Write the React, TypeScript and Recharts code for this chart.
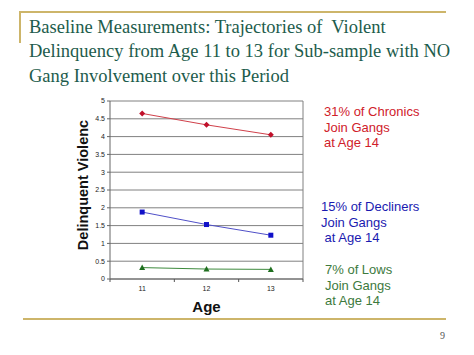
import React from 'react';
import { LineChart, Line, XAxis, YAxis, CartesianGrid, ReferenceLine } from 'recharts';

const ages = [11, 12, 13];
const chronics = [4.65, 4.33, 4.05];
const decliners = [1.88, 1.53, 1.23];
const lows = [0.32, 0.28, 0.27];
const yTicks = [0, 0.5, 1, 1.5, 2, 2.5, 3, 3.5, 4, 4.5, 5];
const xTicks = [10.5, 11, 11.5, 12, 12.5, 13, 13.5];

const titleLines = [
  'Baseline Measurements: Trajectories of  Violent',
  'Delinquency from Age 11 to 13 for Sub-sample with NO',
  'Gang Involvement over this Period',
];
const notes = [
  { lines: ['31% of Chronics', 'Join Gangs', 'at Age 14'], color: '#d0202a', left: 324, top: 104 },
  { lines: ['15% of Decliners', 'Join Gangs', '\u00a0at Age 14'], color: '#1a1ab0', left: 321, top: 199 },
  { lines: ['7% of Lows', 'Join Gangs', 'at Age 14'], color: '#3d7a3d', left: 325, top: 262 },
];

const data = ages.map((a, i) => ({ age: a, chronics: chronics[i], decliners: decliners[i], lows: lows[i] }));

const Diamond = (props: any) => {
  const { cx, cy } = props;
  if (cx == null || cy == null) return null;
  return <path d={`M${cx},${cy - 3}L${cx + 3},${cy}L${cx},${cy + 3}L${cx - 3},${cy}Z`} fill="#c0102a" />;
};
const Square = (props: any) => {
  const { cx, cy } = props;
  if (cx == null || cy == null) return null;
  return <rect x={cx - 2.5} y={cy - 2.5} width={5} height={5} fill="#1010c8" />;
};
const Triangle = (props: any) => {
  const { cx, cy } = props;
  if (cx == null || cy == null) return null;
  return <path d={`M${cx},${cy - 3}L${cx + 3},${cy + 2.5}L${cx - 3},${cy + 2.5}Z`} fill="#1f6f1f" />;
};

const XTick = (props: any) => {
  const { x, y, payload } = props;
  const v = payload.value;
  if (Number.isInteger(v)) {
    return (
      <text x={x} y={y + 12} textAnchor="middle" fontSize={7} fill="#222" fontFamily="Liberation Sans, Arial, sans-serif">
        {v}
      </text>
    );
  }
  return <line x1={x} x2={x} y1={y} y2={y + 3} stroke="#555" />;
};

export default function App() {
  return (
    <div style={{ position: 'absolute', left: 0, top: 0, width: 474, height: 355, background: '#fff', overflow: 'hidden' }}>
      <div style={{ position: 'absolute', left: 20, top: 11, width: 426, height: 1.5, background: '#cdb56a' }} />
      <div style={{ position: 'absolute', left: 19, top: 11, width: 1.5, height: 32, background: '#cdb56a' }} />
      <div style={{ position: 'absolute', left: 23, top: 318, width: 423, height: 1.5, background: '#cdb56a' }} />
      {titleLines.map((t, i) => (
        <div
          key={i}
          style={{
            position: 'absolute',
            left: 29,
            top: [16, 40, 65][i],
            fontFamily: 'Liberation Serif, Times New Roman, serif',
            fontSize: 18.5,
            color: '#1d5c4c',
            whiteSpace: 'pre',
            lineHeight: '22px',
          }}
        >
          {t}
        </div>
      ))}
      {notes.map((n, i) => (
        <div
          key={i}
          style={{
            position: 'absolute',
            left: n.left,
            top: n.top,
            color: n.color,
            fontFamily: 'Liberation Sans, Arial, sans-serif',
            fontSize: 13,
            lineHeight: '15.5px',
            whiteSpace: 'pre',
          }}
        >
          {n.lines.map((l, j) => (
            <div key={j}>{l}</div>
          ))}
        </div>
      ))}
      <div style={{ position: 'absolute', left: 440, top: 330, fontFamily: 'Liberation Serif, serif', fontSize: 10, color: '#555' }}>9</div>
      <div style={{ position: 'absolute', left: 0, top: 0 }}>
        <LineChart width={474} height={355} data={data} margin={{ top: 101, right: 171, bottom: 46, left: 80 }}>
          <CartesianGrid vertical={false} stroke="#808080" strokeWidth={1} />
          <XAxis
            dataKey="age"
            type="number"
            domain={[10.5, 13.5]}
            ticks={xTicks}
            interval={0}
            tickLine={false}
            tickSize={0}
            tickMargin={0}
            tick={<XTick />}
            stroke="#666"
            height={30}
            label={{
              content: (p: any) => {
                const vb = p.viewBox;
                return (
                  <text
                    x={vb.x + vb.width / 2}
                    y={vb.y + 33}
                    textAnchor="middle"
                    fontSize={15}
                    fontWeight="bold"
                    fill="#111"
                    fontFamily="Liberation Sans, Arial, sans-serif"
                  >
                    Age
                  </text>
                );
              },
            }}
          />
          <YAxis
            domain={[0, 5]}
            ticks={yTicks}
            interval={0}
            tickSize={3}
            tickMargin={2}
            width={30}
            stroke="#666"
            tick={{ fontSize: 7, fill: '#222', fontFamily: 'Liberation Sans, Arial, sans-serif' }}
            label={{
              content: (p: any) => {
                const cx = 83;
                const cy = 185;
                return (
                  <text
                    x={cx}
                    y={cy}
                    transform={`rotate(-90 ${cx} ${cy})`}
                    textAnchor="middle"
                    dominantBaseline="central"
                    fontSize={14.5}
                    fontWeight="bold"
                    fill="#111"
                    fontFamily="Liberation Sans, Arial, sans-serif"
                  >
                    Delinquent Violenc
                  </text>
                );
              },
            }}
          />
          <ReferenceLine x={13.5} stroke="#808080" />
          <Line dataKey="chronics" stroke="#d0404a" strokeWidth={1} dot={<Diamond />} isAnimationActive={false} />
          <Line dataKey="decliners" stroke="#5050c8" strokeWidth={1} dot={<Square />} isAnimationActive={false} />
          <Line dataKey="lows" stroke="#3d8a3d" strokeWidth={1} dot={<Triangle />} isAnimationActive={false} />
        </LineChart>
      </div>
    </div>
  );
}
